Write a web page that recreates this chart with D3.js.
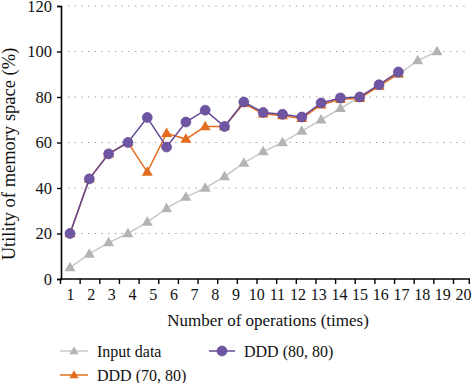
<!DOCTYPE html>
<html>
<head>
<meta charset="utf-8">
<script src="https://cdn.jsdelivr.net/npm/d3@7"></script>
<style>
  html, body { margin: 0; padding: 0; background: #fff; }
  svg { display: block; font-family: "Liberation Serif", "DejaVu Serif", serif; }
</style>
</head>
<body>
<svg id="chart" width="474" height="383"></svg>
<script>
// ---- data ----
const operations = [1,2,3,4,5,6,7,8,9,10,11,12,13,14,15,16,17,18,19,20];
const xTickLabels = ["1","2","3","4","5","6","7","8","9","10","11","12","13","14","15","16","17","18","19","20"];
const yTickValues = [0,20,40,60,80,100,120];
const inputData = [5,11,16,20,25,31,36,40,45,51,56,60,65,70,75,80,85,90,96,100];
const ddd7080 = [20,44,55,60,47,64,61.5,67,67,77.2,72.6,71.8,70.6,76.6,79,79.4,84.8,90.3];
const ddd8080 = [20,44,55,60,71,58,69,74.2,67,77.8,73.2,72.4,71.2,77.4,79.6,80,85.4,91];
const seriesNames = ["Input data", "DDD (70, 80)", "DDD (80, 80)"];

// ---- styles ----
const colGray = "#bdbdbd", colOrange = "#e36c1e", colPurple = "#6f56a3";

const svg = d3.select("#chart");

const y = d3.scaleLinear().domain([0,120]).range([279,6]);
const xPt = d3.scalePoint().domain(operations).range([70,437]);
const xTick = d3.scaleLinear().domain([0,20]).range([60,453]);
const xLab = d3.scalePoint().domain(xTickLabels).range([70,463]);

// gridlines
svg.append("g").selectAll("line")
  .data(yTickValues.filter(v => v > 0))
  .join("line")
  .attr("x1", 68).attr("x2", 466)
  .attr("y1", d => y(d)).attr("y2", d => y(d))
  .attr("stroke", "#9a9a9a").attr("stroke-width", 1.2)
  .attr("stroke-dasharray", "1.3,5.4");

// y axis
const yAxis = svg.append("g").attr("transform", "translate(61,0)")
  .call(d3.axisLeft(y).tickValues(yTickValues).tickSize(4).tickPadding(5));
yAxis.select(".domain").attr("stroke", "#000").attr("stroke-width", 1.6);
yAxis.selectAll(".tick line").attr("stroke", "#000").attr("stroke-width", 1.4);
yAxis.selectAll("text").attr("font-family", "Liberation Serif").attr("font-size", 16.5).attr("fill", "#111");

// x axis: tick marks
const xAxisT = svg.append("g").attr("transform", "translate(0,279)")
  .call(d3.axisBottom(xTick).tickValues(d3.range(0,21)).tickSize(5).tickFormat(""));
xAxisT.select(".domain").remove();
xAxisT.selectAll(".tick line").attr("stroke", "#000").attr("stroke-width", 1.4);
svg.append("line").attr("x1", 60).attr("x2", 470).attr("y1", 279).attr("y2", 279)
  .attr("stroke", "#000").attr("stroke-width", 1.6);
svg.append("line").attr("x1", 469.3).attr("x2", 469.3).attr("y1", 279).attr("y2", 284)
  .attr("stroke", "#000").attr("stroke-width", 1.4);
// x axis: labels
const xAxisL = svg.append("g").attr("transform", "translate(0,279)")
  .call(d3.axisBottom(xLab).tickSize(0).tickPadding(10));
xAxisL.select(".domain").remove();
xAxisL.selectAll("text").attr("font-family", "Liberation Serif").attr("font-size", 16).attr("fill", "#111");

// axis titles
svg.append("text").attr("x", 268).attr("y", 326).attr("text-anchor", "middle")
  .attr("font-size", 17).attr("fill", "#111").text("Number of operations (times)");
svg.append("text").attr("transform", "translate(15,154) rotate(-90)").attr("text-anchor", "middle")
  .attr("font-size", 18.5).attr("fill", "#111").text("Utility of memory space (%)");

const tri = d3.symbol().type(d3.symbolTriangle);
const line = d3.line().x((d,i) => xPt(operations[i])).y(d => y(d));

function drawSeries(vals, color, lineColor, marker, size) {
  const g = svg.append("g");
  g.append("path").datum(vals).attr("d", line).attr("fill", "none")
    .attr("stroke", lineColor).attr("stroke-width", 1.5);
  if (marker === "tri") {
    g.selectAll("path.m").data(vals).join("path").attr("class", "m")
      .attr("d", tri.size(size))
      .attr("transform", (d,i) => `translate(${xPt(operations[i])},${y(d)+0.5})`)
      .attr("fill", color);
  } else {
    g.selectAll("circle").data(vals).join("circle")
      .attr("cx", (d,i) => xPt(operations[i])).attr("cy", d => y(d))
      .attr("r", size).attr("fill", color).attr("stroke", "#5a4390").attr("stroke-width", 0.6);
  }
}
drawSeries(inputData, "#b4b4b4", "#c8c8c8", "tri", 52);
drawSeries(ddd7080, colOrange, colOrange, "tri", 52);
drawSeries(ddd8080, colPurple, "#634a96", "circle", 5);

// legend
const legend = [
  {name: seriesNames[0], x: 60, y: 351, color: "#b4b4b4", lc: "#c8c8c8", m: "tri"},
  {name: seriesNames[2], x: 209, y: 351, color: colPurple, lc: "#634a96", m: "circle"},
  {name: seriesNames[1], x: 60, y: 375, color: colOrange, lc: colOrange, m: "tri"}
];
const lg = svg.append("g").selectAll("g").data(legend).join("g")
  .attr("transform", d => `translate(${d.x},${d.y})`);
lg.append("line").attr("x1", 0).attr("x2", d => d.m === "tri" ? 28 : 26).attr("y1", 0).attr("y2", 0)
  .attr("stroke", d => d.lc).attr("stroke-width", 1.5);
lg.filter(d => d.m === "tri").append("path").attr("d", tri.size(36))
  .attr("transform", "translate(14,0.5)").attr("fill", d => d.color);
lg.filter(d => d.m === "circle").append("circle").attr("cx", 13).attr("cy", 0).attr("r", 5)
  .attr("fill", d => d.color).attr("stroke", "#5a4390").attr("stroke-width", 0.6);
lg.append("text").attr("x", d => d.m === "tri" ? 37 : 35).attr("y", 5.5)
  .attr("font-size", 16).attr("fill", "#111").text(d => d.name);
</script>
</body>
</html>
